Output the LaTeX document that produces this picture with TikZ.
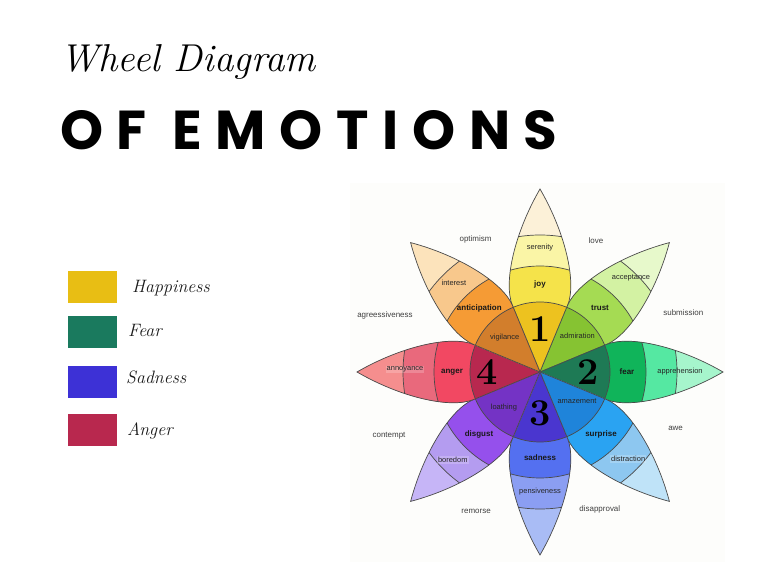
\documentclass[tikz,border=0pt]{standalone}
\usepackage{fontspec}
\setsansfont{Liberation Sans}
\newfontfamily\headfont[LetterSpace=25]{Poppins}

% legend colours
\definecolor{happy}{HTML}{E8BE14}
\definecolor{afraid}{HTML}{1A7A5E}
\definecolor{sad}{HTML}{3D31D6}
\definecolor{angry}{HTML}{B8284E}
\definecolor{wheelbg}{HTML}{FDFDFB}
\definecolor{edge}{HTML}{4A4A4A}

% petal colours: inner sector, main ring, light ring, tip
\definecolor{joy0}{HTML}{EDC21F}\definecolor{joy1}{HTML}{F5E34A}\definecolor{joy2}{HTML}{FAF5A6}\definecolor{joy3}{HTML}{FCF1D8}
\definecolor{tru0}{HTML}{86C332}\definecolor{tru1}{HTML}{A5DB53}\definecolor{tru2}{HTML}{D3F2A3}\definecolor{tru3}{HTML}{E7F9CB}
\definecolor{fea0}{HTML}{1E7A55}\definecolor{fea1}{HTML}{10B45A}\definecolor{fea2}{HTML}{55E8A2}\definecolor{fea3}{HTML}{A6F5CC}
\definecolor{sur0}{HTML}{1F84DA}\definecolor{sur1}{HTML}{2AA3F2}\definecolor{sur2}{HTML}{8DC7F0}\definecolor{sur3}{HTML}{BFE3F8}
\definecolor{sad0}{HTML}{4A36CF}\definecolor{sad1}{HTML}{5470F0}\definecolor{sad2}{HTML}{8B9EF2}\definecolor{sad3}{HTML}{A9BCF5}
\definecolor{dis0}{HTML}{7433C5}\definecolor{dis1}{HTML}{9550EC}\definecolor{dis2}{HTML}{B49CF0}\definecolor{dis3}{HTML}{C6B5F7}
\definecolor{ang0}{HTML}{B8284F}\definecolor{ang1}{HTML}{F24862}\definecolor{ang2}{HTML}{E9697C}\definecolor{ang3}{HTML}{F58E8E}
\definecolor{ant0}{HTML}{D27E2C}\definecolor{ant1}{HTML}{F59B35}\definecolor{ant2}{HTML}{F8C88C}\definecolor{ant3}{HTML}{FCE3BB}

% one petal lying along the x axis
\newcommand{\petalpath}{(0,0) -- (66.5,27.6) .. controls (90,37) and (140,25) .. (183,0) .. controls (140,-25) and (90,-37) .. (66.5,-27.6) -- cycle}
% \petal{angle}{inner}{main}{light}{tip}
\newcommand{\petal}[5]{%
  \begin{scope}[rotate=#1]
    \begin{scope}
      \clip \petalpath;
      \fill [#5] (0,0) circle (190);
      \fill [#4] (0,0) circle (137);
      \fill [#3] (0,0) circle (106);
      \fill [#2] (0,0) circle (70);
      \draw [edge, line width=0.7bp] (0,0) circle (70) (0,0) circle (106) (0,0) circle (137);
    \end{scope}
    \draw [edge, line width=0.7bp] \petalpath;
  \end{scope}}

\begin{document}
\begin{tikzpicture}[x=1bp, y=1bp,
    swatch/.style={minimum width=49bp, minimum height=32bp, inner sep=0pt, outer sep=0pt},
    legend/.style={anchor=base west, inner sep=0pt, font=\itshape\fontsize{18}{20}\selectfont, text=black!90},
    tag/.style={inner sep=1bp, font=\sffamily\fontsize{7.5}{8}\selectfont, text=black!85},
    basic/.style={inner sep=1bp, font=\sffamily\bfseries\fontsize{8}{9}\selectfont, text=black!90},
    boxed/.style={tag, fill=white, fill opacity=0.2, text opacity=1},
    dyad/.style={inner sep=1bp, font=\sffamily\fontsize{8}{9}\selectfont, text=black!75},
    num/.style={inner sep=0pt, font=\bfseries\fontsize{38}{38}\selectfont}]
        \useasboundingbox (0,0) rectangle (768,576);
        \fill [white] (0,0) rectangle (768,576);
        \fill [wheelbg] (350,393) rectangle (725,14);

        % title
        \node [anchor=base west, inner sep=0pt, font=\itshape\fontsize{39}{44}\selectfont] (title) at (60,504) {Wheel Diagram};
        \node [anchor=base west, inner sep=0pt, font=\headfont\bfseries\fontsize{55}{60}\selectfont] (subtitle) at (60,426) {OF EMOTIONS};

        % legend
        \node [swatch, fill=happy] (happybox) at (92.5,289) {};
        \node [swatch, fill=afraid] (fearbox) at (92.5,244) {};
        \node [swatch, fill=sad] (sadbox) at (92.5,194) {};
        \node [swatch, fill=angry] (angerbox) at (92.5,146) {};
        \node [legend] (happytxt) at (132,283) {Happiness};
        \node [legend] (feartxt) at (128,239) {Fear};
        \node [legend] (sadtxt) at (126,192) {Sadness};
        \node [legend] (angertxt) at (127,140) {Anger};

        % wheel
        \begin{scope}[shift={(540,204)}]
        \petal{90}{joy0}{joy1}{joy2}{joy3}
        \petal{45}{tru0}{tru1}{tru2}{tru3}
        \petal{0}{fea0}{fea1}{fea2}{fea3}
        \petal{-45}{sur0}{sur1}{sur2}{sur3}
        \petal{-90}{sad0}{sad1}{sad2}{sad3}
        \petal{-135}{dis0}{dis1}{dis2}{dis3}
        \petal{180}{ang0}{ang1}{ang2}{ang3}
        \petal{135}{ant0}{ant1}{ant2}{ant3}

        \node [num] (one) at (90:43) {1};
        \node [num] (two) at (0:48) {2};
        \node [num] (three) at (-90:41) {3};
        \node [num] (four) at (180:53) {4};

        \node [basic] (joy) at (90:88) {joy};
        \node [tag] (serenity) at (90:124) {serenity};
        \node [tag] (admiration) at (44:52) {admiration};
        \node [basic] (trust) at (47:88) {trust};
        \node [tag] (acceptance) at (46:131) {acceptance};
        \node [basic] (fear) at (0:87) {fear};
        \node [tag] (apprehension) at (0:140) {apprehension};
        \node [tag] (amazement) at (-38:47) {amazement};
        \node [basic] (surprise) at (-45.5:87) {surprise};
        \node [boxed] (distraction) at (-44.7:124) {distraction};
        \node [basic] (sadness) at (-90:86) {sadness};
        \node [tag] (pensiveness) at (-90:120) {pensiveness};
        \node [tag] (loathing) at (-135:51) {loathing};
        \node [basic] (disgust) at (-134.5:87) {disgust};
        \node [boxed] (boredom) at (-134.7:124) {boredom};
        \node [basic] (anger) at (180:88) {anger};
        \node [boxed] (annoyance) at (179:135) {annoyance};
        \node [tag] (vigilance) at (136:49) {vigilance};
        \node [basic] (anticipation) at (133.6:88) {anticipation};
        \node [tag] (interest) at (134:124) {interest};

        \node [dyad] (optimism) at (116:147) {optimism};
        \node [dyad] (love) at (67:143) {love};
        \node [dyad] (submission) at (22.4:155) {submission};
        \node [dyad] (awe) at (-22.7:147) {awe};
        \node [dyad] (disapproval) at (-66.5:150) {disapproval};
        \node [dyad] (remorse) at (-114.7:153) {remorse};
        \node [dyad] (contempt) at (-157:164) {contempt};
        \node [dyad] (aggression) at (160:165) {agreessiveness};
        \end{scope}
        \end{tikzpicture}
\end{document}
